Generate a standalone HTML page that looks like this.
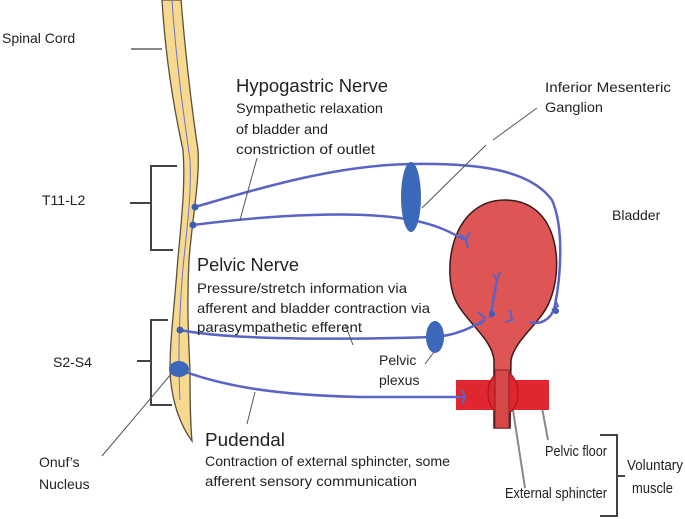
<!DOCTYPE html>
<html><head><meta charset="utf-8"><style>
html,body{margin:0;padding:0;background:#fff;}
svg{display:block;}
text{font-family:"Liberation Sans",sans-serif;fill:#222;}
</style></head><body>
<svg width="685" height="519" viewBox="0 0 685 519" xmlns="http://www.w3.org/2000/svg">
<path d="M162,0 C165,50 172,100 183,150 C186,190 180,230 177,270 C174,310 170,340 170,370 C171,400 180,425 192,441 C190,420 190,395 190,370 C188,330 187,300 189,260 C192,220 200,180 198,150 C192,110 186,60 181,0 Z" fill="#f7d98f" stroke="#5a5040" stroke-width="1.3"/>
<path d="M172,0 C176,60 183,110 190,160 C192,200 185,240 182,280 C179,320 178,360 180,400" fill="none" stroke="#6a74c8" stroke-width="1"/>
<g stroke="#444" stroke-width="2" fill="none">
<path d="M177,166 H151 V250 H173"/><path d="M130,203 H151"/>
<path d="M168,320 H151 V405 H172"/><path d="M137,361 H151"/>
<path d="M600,435 H617 V516 H600"/><path d="M617,476 H625"/>
</g>
<line x1="131" y1="49" x2="162" y2="49" stroke="#888" stroke-width="2"/>
<g stroke="#888" stroke-width="2"><path d="M513,410 L525,488"/><path d="M540,397 L548,440"/></g>
<path d="M494,428 L494,360 C492,340 470,325 458,305 C440,275 450,200 505,200 C560,200 565,270 548,305 C538,325 515,340 511,360 L510,428 Z" fill="#dd5555" stroke="#3a1a1a" stroke-width="1.5"/>
<rect x="456" y="380" width="93" height="30" fill="#e0262e"/>
<ellipse cx="503" cy="393" rx="15" ry="22" fill="#e0262e" stroke="#a01818" stroke-width="1"/>
<rect x="495" y="370" width="14" height="58" fill="#d64848" stroke="#8a2020" stroke-width="1"/>
<g stroke="#5b63c4" stroke-width="2.5" fill="none">
<path d="M195,207 C270,185 340,165 411,164 C480,163 530,170 552,200 C565,230 560,280 555,305"/>
<path d="M193,225 C270,215 360,210 411,220 C440,225 455,235 465,240"/>
<path d="M180,330 C230,340 330,340 435,337 C460,335 475,325 485,320"/>
<path d="M180,370 C220,385 270,395 360,397 L465,397"/>
<path d="M555,305 C552,320 540,325 530,322"/>
<path d="M490,318 L497,280"/>
</g>
<g stroke="#5b63c4" stroke-width="2" fill="none">
<path d="M460,234 L466,240 L470,232 M466,240 L468,248"/>
<path d="M493,274 L497,280 L500,272"/>
<path d="M478,312 L485,318 L480,325"/>
<path d="M510,310 L512,320 L505,322"/>
<path d="M555,300 L558,306 L552,310"/>
<path d="M462,390 L465,397 L462,404"/>
</g>
<circle cx="492" cy="314" r="3" fill="#3b5fb5"/>
<circle cx="556" cy="311" r="3" fill="#3b5fb5"/>
<circle cx="195" cy="207" r="3.5" fill="#3b5fb5"/>
<circle cx="193" cy="225" r="3.5" fill="#3b5fb5"/>
<circle cx="180" cy="330" r="3.5" fill="#3b5fb5"/>
<ellipse cx="411" cy="197" rx="10" ry="35" fill="#3b68b8"/>
<ellipse cx="435" cy="337" rx="9" ry="16" fill="#3b68b8"/>
<ellipse cx="179" cy="369" rx="10" ry="8" fill="#3b68b8"/>
<g stroke="#555" stroke-width="1" fill="none">
<path d="M240,220 L257,158"/>
<path d="M422,208 L486,145 M493,140 L537,108"/>
<path d="M345,324 L353,345"/>
<path d="M425,364 L434,352"/>
<path d="M247,424 L255,392"/>
<path d="M102,456 L172,373"/>
</g>
<text x="2" y="43" font-size="14">Spinal Cord</text>
<text x="236" y="92" font-size="18" textLength="152" lengthAdjust="spacingAndGlyphs">Hypogastric Nerve</text>
<text x="236" y="113" font-size="14" textLength="147" lengthAdjust="spacingAndGlyphs">Sympathetic relaxation</text>
<text x="236" y="134" font-size="14" textLength="92" lengthAdjust="spacingAndGlyphs">of bladder and</text>
<text x="236" y="154" font-size="14" textLength="139" lengthAdjust="spacingAndGlyphs">constriction of outlet</text>
<text x="545" y="92" font-size="14" textLength="126" lengthAdjust="spacingAndGlyphs">Inferior Mesenteric</text>
<text x="545" y="112" font-size="14" textLength="58" lengthAdjust="spacingAndGlyphs">Ganglion</text>
<text x="612" y="220" font-size="14">Bladder</text>
<text x="42" y="205" font-size="14">T11-L2</text>
<text x="53" y="367" font-size="14">S2-S4</text>
<text x="197" y="271" font-size="18" textLength="102" lengthAdjust="spacingAndGlyphs">Pelvic Nerve</text>
<text x="197" y="293" font-size="14" textLength="210" lengthAdjust="spacingAndGlyphs">Pressure/stretch information via</text>
<text x="197" y="313" font-size="14" textLength="233" lengthAdjust="spacingAndGlyphs">afferent and bladder contraction via</text>
<text x="197" y="332" font-size="14" textLength="165" lengthAdjust="spacingAndGlyphs">parasympathetic efferent</text>
<text x="379" y="365" font-size="14">Pelvic</text>
<text x="379" y="385" font-size="14">plexus</text>
<text x="205" y="446" font-size="18" textLength="80" lengthAdjust="spacingAndGlyphs">Pudendal</text>
<text x="205" y="466" font-size="14" textLength="245" lengthAdjust="spacingAndGlyphs">Contraction of external sphincter, some</text>
<text x="205" y="486" font-size="14" textLength="212" lengthAdjust="spacingAndGlyphs">afferent sensory communication</text>
<text x="39" y="467" font-size="14">Onuf’s</text>
<text x="39" y="489" font-size="14">Nucleus</text>
<text x="545" y="456" font-size="15" textLength="62" lengthAdjust="spacingAndGlyphs">Pelvic floor</text>
<text x="505" y="498" font-size="15" textLength="102" lengthAdjust="spacingAndGlyphs">External sphincter</text>
<text x="627" y="470" font-size="15" textLength="56" lengthAdjust="spacingAndGlyphs">Voluntary</text>
<text x="632" y="493" font-size="15" textLength="41" lengthAdjust="spacingAndGlyphs">muscle</text>
</svg>
</body></html>
